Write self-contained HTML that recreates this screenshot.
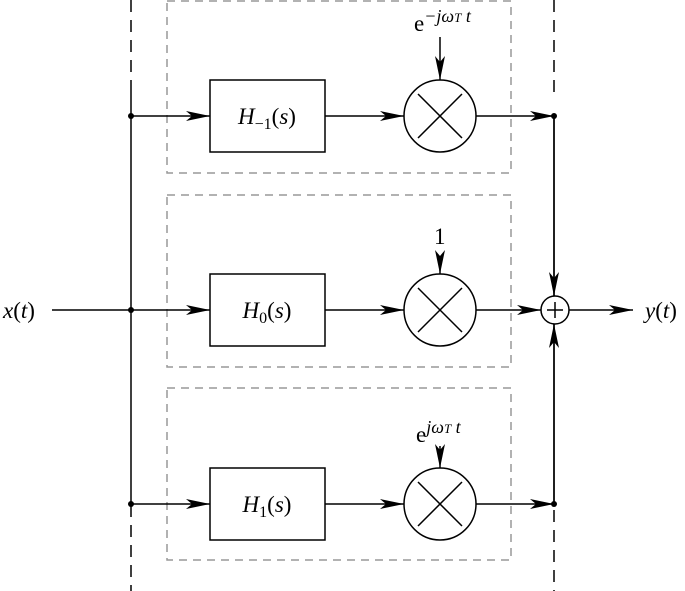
<!DOCTYPE html><html><head><style>body{margin:0;background:#fff}svg{display:block}text{font-family:"Liberation Serif",serif;font-size:23px}</style></head><body>
<svg width="685" height="591" viewBox="0 0 685 591">
<defs><marker id="a" viewBox="0 0 24 10" refX="24" refY="5" markerWidth="24" markerHeight="10" markerUnits="userSpaceOnUse" orient="auto"><path d="M0,0 L24,5 L0,10 L6,5 Z" fill="#000"/></marker></defs>
<g fill="none" stroke="#999" stroke-width="1.5" stroke-dasharray="8,6">
<rect x="167" y="1" width="344" height="172"/><rect x="167" y="195" width="344" height="172"/><rect x="167" y="388" width="344" height="172"/></g>
<g stroke="#000" stroke-width="1.5" fill="none">
<line x1="131" y1="0" x2="131" y2="83" stroke-dasharray="12,8"/><line x1="131" y1="83" x2="131" y2="505"/><line x1="131" y1="505" x2="131" y2="591" stroke-dasharray="12,8"/>
<line x1="554" y1="0" x2="554" y2="100" stroke-dasharray="12,8"/><line x1="554" y1="116" x2="554" y2="504"/><line x1="554" y1="510" x2="554" y2="591" stroke-dasharray="12,8"/>
<line x1="52" y1="310" x2="210" y2="310" marker-end="url(#a)"/>
<line x1="131" y1="116" x2="210" y2="116" marker-end="url(#a)"/><line x1="131" y1="504" x2="210" y2="504" marker-end="url(#a)"/>
<rect x="210" y="80" width="115" height="72"/><rect x="210" y="274" width="115" height="72"/><rect x="210" y="468" width="115" height="72"/>
<line x1="325" y1="116" x2="404" y2="116" marker-end="url(#a)"/><line x1="325" y1="310" x2="404" y2="310" marker-end="url(#a)"/><line x1="325" y1="504" x2="404" y2="504" marker-end="url(#a)"/>
<circle cx="440" cy="116" r="36"/><circle cx="440" cy="310" r="36"/><circle cx="440" cy="504" r="36"/>
<path d="M418,94 L462,138 M462,94 L418,138 M418,288 L462,332 M462,288 L418,332 M418,482 L462,526 M462,482 L418,526"/>
<line x1="440" y1="37" x2="440" y2="80" marker-end="url(#a)"/><line x1="440" y1="256" x2="440" y2="274" marker-end="url(#a)"/><line x1="440" y1="446" x2="440" y2="468" marker-end="url(#a)"/>
<line x1="476" y1="116" x2="554" y2="116" marker-end="url(#a)"/><line x1="476" y1="504" x2="554" y2="504" marker-end="url(#a)"/>
<line x1="476" y1="310" x2="541" y2="310" marker-end="url(#a)"/>
<line x1="554" y1="116" x2="554" y2="296" marker-end="url(#a)"/><line x1="554" y1="504" x2="554" y2="324" marker-end="url(#a)"/>
<circle cx="555" cy="310" r="14" fill="#fff"/><path d="M555,302 V318 M547,310 H563"/>
<line x1="569" y1="310" x2="633" y2="310" marker-end="url(#a)"/>
</g>
<g fill="#000"><circle cx="131" cy="116" r="3"/><circle cx="131" cy="310" r="3"/><circle cx="131" cy="504" r="3"/><circle cx="554" cy="116" r="3"/><circle cx="554" cy="504" r="3"/></g>
<text x="267" y="124" text-anchor="middle"><tspan font-style="italic">H</tspan><tspan font-size="16" dy="5">−1</tspan><tspan dy="-5">(</tspan><tspan font-style="italic">s</tspan>)</text>
<text x="267" y="318" text-anchor="middle"><tspan font-style="italic">H</tspan><tspan font-size="16" dy="5">0</tspan><tspan dy="-5">(</tspan><tspan font-style="italic">s</tspan>)</text>
<text x="267" y="512" text-anchor="middle"><tspan font-style="italic">H</tspan><tspan font-size="16" dy="5">1</tspan><tspan dy="-5">(</tspan><tspan font-style="italic">s</tspan>)</text>
<text x="414" y="31">e<tspan font-size="18" dy="-9" font-style="italic">−jω<tspan font-size="13">T</tspan> t</tspan></text>
<text x="434" y="244">1</text>
<text x="416" y="442">e<tspan font-size="18" dy="-9" font-style="italic">jω<tspan font-size="13">T</tspan> t</tspan></text>
<text x="3" y="318" font-style="italic">x<tspan font-style="normal">(</tspan>t<tspan font-style="normal">)</tspan></text>
<text x="645" y="318" font-style="italic">y<tspan font-style="normal">(</tspan>t<tspan font-style="normal">)</tspan></text>
</svg></body></html>
